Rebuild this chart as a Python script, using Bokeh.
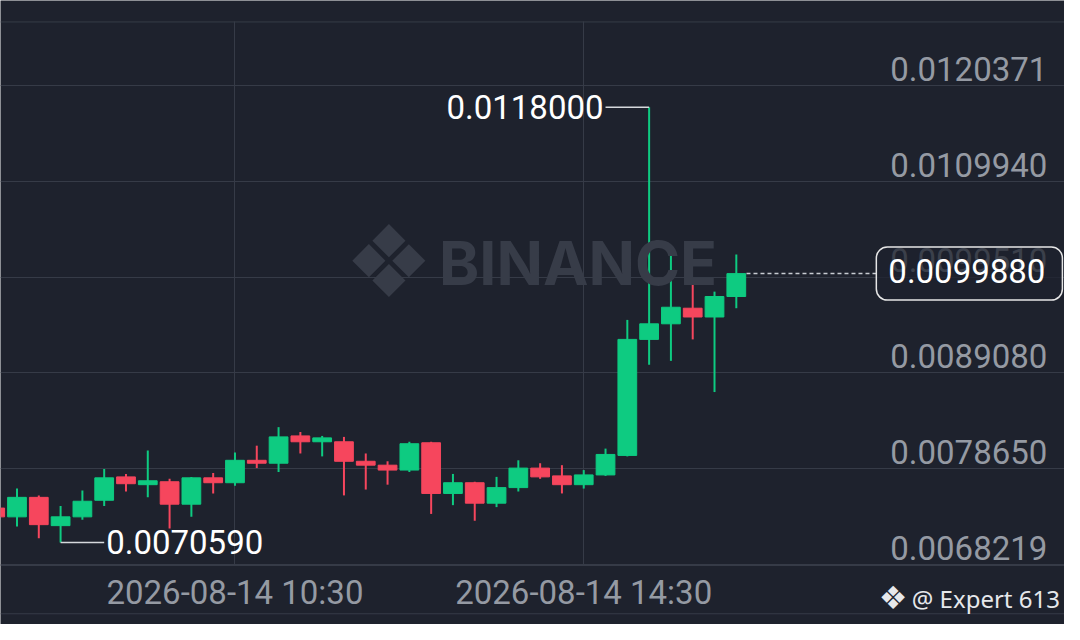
import numpy as np
import pandas as pd
from bokeh.core.properties import value
from bokeh.embed import file_html
from bokeh.models import (ColumnDataSource, DatetimeAxis, DatetimeTickFormatter, FixedTicker,
                          Grid, Label, LinearAxis, NumeralTickFormatter, Range1d, Span)
from bokeh.plotting import figure
from bokeh.resources import INLINE

BG = "#1e222d"
GRID = "#363b47"
UP = "#0ecb81"
DOWN = "#f6465d"
MUTED = "#959aa3"
NUM_FONT = "Roboto"

# 15分足 2026-08-14 07:45 - 16:15
times = pd.date_range("2026-08-14 07:45", periods=35, freq="15min")
opens = [0.0074338, 0.0073382, 0.0075507, 0.0072426, 0.0073382, 0.0075188, 0.0077737,
         0.0076887, 0.0077206, 0.0074763, 0.0077631, 0.0077100, 0.0079543, 0.0079224,
         0.0082198, 0.0081561, 0.0081561, 0.0079436, 0.0079011, 0.0078480, 0.0081454,
         0.0075931, 0.0077100, 0.0074869, 0.0076569, 0.0078693, 0.0077843, 0.0076887,
         0.0077949, 0.0080074, 0.0092713, 0.0094412, 0.0096111, 0.0095155, 0.0097386]
highs = [0.0074551, 0.0076462, 0.0075719, 0.0074551, 0.0076250, 0.0078587, 0.0078056,
         0.0080605, 0.0077525, 0.0077737, 0.0078162, 0.0080392, 0.0081136, 0.0083154,
         0.0082623, 0.0082198, 0.0082092, 0.0080286, 0.0079436, 0.0081561, 0.0081561,
         0.0078056, 0.0077206, 0.0077737, 0.0079543, 0.0079224, 0.0079011, 0.0078480,
         0.0080817, 0.0094837, 0.0118000, 0.0102590, 0.0099404, 0.0097917, 0.0101953]
lows = [0.0073170, 0.0072320, 0.0071046, 0.0070590, 0.0073064, 0.0074551, 0.0076144,
        0.0075507, 0.0072108, 0.0073382, 0.0075931, 0.0076781, 0.0078693, 0.0078268,
        0.0080286, 0.0079967, 0.0075719, 0.0076356, 0.0076887, 0.0078268, 0.0073701,
        0.0074657, 0.0072957, 0.0074444, 0.0076144, 0.0077525, 0.0075931, 0.0076462,
        0.0077843, 0.0079967, 0.0089951, 0.0090376, 0.0092713, 0.0086977, 0.0096111]
closes = [0.0073382, 0.0075507, 0.0072533, 0.0073382, 0.0075082, 0.0077631, 0.0076993,
          0.0077312, 0.0074763, 0.0077631, 0.0077100, 0.0079543, 0.0079224, 0.0082092,
          0.0081561, 0.0081985, 0.0079436, 0.0079011, 0.0078480, 0.0081348, 0.0075931,
          0.0077100, 0.0074869, 0.0076569, 0.0078693, 0.0077737, 0.0076887, 0.0077949,
          0.0080180, 0.0092713, 0.0094412, 0.0096217, 0.0095155, 0.0097386, 0.0099880]

price_ticks = [0.0068219, 0.0078650, 0.0089080, 0.0099510, 0.0109940, 0.0120371]
time_ticks = ["2026-08-14 10:30", "2026-08-14 14:30"]
brand = "BINANCE"
footer = "@ Expert 613"

# 配置は元画像(1080x640)のpxで考えて縮小
REF_W, REF_H = 1080, 640
W, H = 1064, 624
SX, SY = W / REF_W, H / REF_H
GRID_PX = 98.2
BASE_PX = 578.2              # price_ticks[0] の位置
STEP_V = (price_ticks[-1] - price_ticks[0]) / (len(price_ticks) - 1)
X0_PX = 238.0                # time_ticks[0] の位置
BAR_PX = 22.125
BAR_MS = 15 * 60 * 1000


def y_at(px):
    """上からのpx -> 価格"""
    return price_ticks[0] + (BASE_PX - px) / GRID_PX * STEP_V


def t_at(px):
    """左からのpx -> 時刻(ms)"""
    t0 = pd.Timestamp(time_ticks[0]).value / 1e6
    return t0 + (px - X0_PX) / BAR_PX * BAR_MS


def sx(px):
    return px * SX


def sy(px):
    return (REF_H - px) * SY


tick_ms = [pd.Timestamp(t).value / 1e6 for t in time_ticks]

df = pd.DataFrame(dict(t=times, o=opens, h=highs, l=lows, c=closes))
df["top"] = df[["o", "c"]].max(axis=1)
df["bottom"] = df[["o", "c"]].min(axis=1)
df["color"] = np.where(df["c"] >= df["o"], UP, DOWN)
src = ColumnDataSource(df)

p = figure(width=W, height=H, x_range=Range1d(t_at(0), t_at(REF_W)),
           y_range=Range1d(y_at(REF_H), y_at(0)),
           x_axis_location=None, y_axis_location=None, min_border=0,
           background_fill_color=BG, border_fill_color=BG, outline_line_color=None,
           toolbar_location=None, output_backend="svg")
p.xgrid.visible = False
p.ygrid.visible = False

# グリッド
p.add_layout(Grid(dimension=1, ticker=FixedTicker(ticks=price_ticks), grid_line_color=GRID))
xg = Grid(dimension=0, ticker=FixedTicker(ticks=tick_ms), grid_line_color=GRID)
if "cross_bounds" in Grid.properties():
    xg.cross_bounds = (y_at(579), y_at(22))
p.add_layout(xg)
p.add_layout(Span(location=y_at(22), dimension="width", line_color=GRID, line_width=1))
p.add_layout(Span(location=y_at(629), dimension="width", line_color=GRID, line_width=1))

# ローソク足
p.segment("t", "h", "t", "l", source=src, line_color="color", line_width=2)
p.vbar(x="t", top="top", bottom="bottom", width=BAR_MS * 0.86, source=src,
       fill_color="color", line_color="color")

# 時間軸
fmt = "%Y-%m-%d %H:%M"
xaxis = DatetimeAxis(ticker=FixedTicker(ticks=tick_ms),
                     formatter=DatetimeTickFormatter(hours=fmt, hourmin=fmt, minutes=fmt, days=fmt,
                                                     strip_leading_zeros=False),
                     fixed_location=y_at(579), axis_line_color=GRID,
                     major_tick_out=0, major_tick_in=0, minor_tick_out=0, minor_tick_in=0,
                     major_tick_line_color=None, minor_tick_line_color=None,
                     major_label_standoff=8, major_label_text_color=MUTED,
                     major_label_text_font=NUM_FONT, major_label_text_font_size="33px")
p.add_layout(xaxis, "below")

# 価格軸 (ラベルはグリッド線の少し上)
shift = 17.0 / GRID_PX * STEP_V
p.extra_y_ranges = {"labels": Range1d(y_at(REF_H) - shift, y_at(0) - shift)}
yaxis = LinearAxis(y_range_name="labels", ticker=FixedTicker(ticks=price_ticks),
                   formatter=NumeralTickFormatter(format="0.0000000"),
                   fixed_location=t_at(893), axis_line_color=None,
                   major_tick_out=0, major_tick_in=0, minor_tick_out=0, minor_tick_in=0,
                   major_tick_line_color=None, minor_tick_line_color=None,
                   major_label_standoff=10, major_label_text_color=MUTED,
                   major_label_text_font=NUM_FONT, major_label_text_font_size="33px")
p.add_layout(yaxis, "right")

# 高値・安値
hook = pd.Timedelta(minutes=30)
i_hi = int(np.argmax(highs))
i_lo = int(np.argmin(lows))
t_hi, t_lo = times[i_hi], times[i_lo]
p.segment(x0=[t_hi - hook, t_lo], y0=[highs[i_hi], lows[i_lo]],
          x1=[t_hi, t_lo + hook], y1=[highs[i_hi], lows[i_lo]], line_color="#d6d9dd", line_width=1.5)
p.text(x=[t_hi - hook], y=[highs[i_hi]], text=[f"{highs[i_hi]:.7f}"], text_align="right",
       text_baseline="middle", x_offset=-2, text_color="white", text_font=value(NUM_FONT),
       text_font_size="33px")
p.text(x=[t_lo + hook], y=[lows[i_lo]], text=[f"{lows[i_lo]:.7f}"], text_align="left",
       text_baseline="middle", x_offset=2, text_color="white", text_font=value(NUM_FONT),
       text_font_size="33px")

# 現在値
last = closes[-1]
p.segment(x0=[times[-1] + pd.Timedelta(minutes=7)], y0=[last], x1=[t_at(889)], y1=[last],
          line_color="#c8ccd2", line_width=1.5, line_dash="4 3")
p.add_layout(Label(x=sx(889), y=last, x_units="screen", text=f"{last:.7f}", text_align="left",
                   text_baseline="middle", text_color="white", text_font=NUM_FONT,
                   text_font_size="33px", padding=(12, 17, 12, 17), border_radius=11,
                   border_line_color="#e6e6e6", border_line_width=1.5,
                   background_fill_color=BG, background_fill_alpha=0.75))

# ウォーターマーク
p.add_layout(Label(x=sx(394), y=sy(269), x_units="screen", y_units="screen", text="\u2756",
                   text_align="center", text_baseline="middle", text_color="#373c48",
                   text_font="DejaVu Sans", text_font_size="100px"))
p.add_layout(Label(x=sx(445), y=sy(269), x_units="screen", y_units="screen", text=brand,
                   text_align="left", text_baseline="middle", text_color="#373c48",
                   text_font="Inter", text_font_style="bold", text_font_size="61px"))

# フッター
p.add_layout(Label(x=sx(906), y=sy(613), x_units="screen", y_units="screen", text="\u2756",
                   text_align="center", text_baseline="middle", text_color="#e6e8eb",
                   text_font="DejaVu Sans", text_font_size="32px"))
p.add_layout(Label(x=sx(925), y=sy(613), x_units="screen", y_units="screen", text=footer,
                   text_align="left", text_baseline="middle", text_color="#e6e8eb",
                   text_font="Noto Sans", text_font_size="24px"))

open("out.html", "w").write(file_html(p, INLINE))
